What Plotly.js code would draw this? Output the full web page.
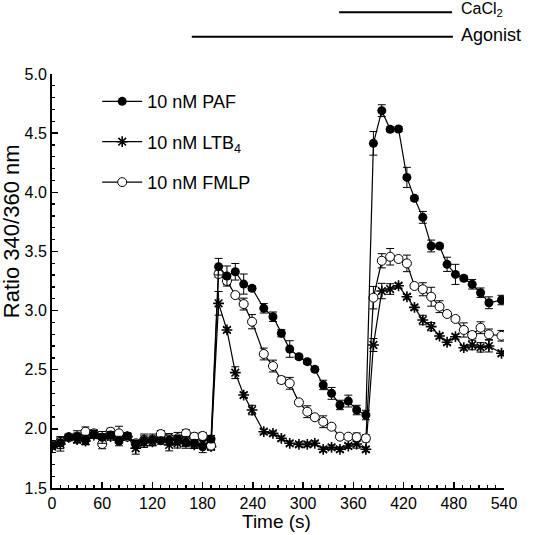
<!DOCTYPE html>
<html>
<head>
<meta charset="utf-8">
<script src="https://cdn.plot.ly/plotly-3.0.1.min.js"></script>
<style>html,body{margin:0;padding:0;background:#fff;}#chart{width:550px;height:535px;}</style>
</head>
<body>
<div id="chart"></div>
<script>
// Sampling times (s)
const times = [0,10,20,30,40,50,60,70,80,90,100,110,120,130,140,150,160,170,180,190,
  199,209,219,229,239,253,264,274,284,295,305,314,324,334,344,354,364,375,
  384,394,404,414,424,433,443,453,463,472,482,492,502,512,522,537];

const paf = [1.858,1.883,1.928,1.934,1.906,1.956,1.928,1.948,1.897,1.94,1.872,1.90,1.906,1.90,1.906,1.914,1.886,1.878,1.849,1.914,
  3.371,3.292,3.328,3.224,3.188,3.019,2.948,2.808,2.675,2.610,2.568,2.503,2.371,2.300,2.202,2.235,2.159,2.117,
  4.414,4.69,4.532,4.535,4.126,3.949,3.788,3.546,3.546,3.391,3.306,3.273,3.222,3.151,3.066,3.089];
const pafErr = [0.03,0.05,0.02,0.03,0.04,0.03,0.05,0.03,0.04,0.02,0.03,0.04,0.05,0.03,0.04,0.03,0.05,0.03,0.05,0.03,
  0.07,0.085,0.07,0.085,0.02,0.04,0.04,0.03,0.07,0.02,0.02,0.02,0.04,0.05,0.04,0.05,0.04,0.04,
  0.10,0.05,0.02,0.02,0.085,0.02,0.05,0.05,0.02,0.06,0.085,0.02,0.04,0.04,0.05,0.04];

const ltb4 = [1.85,1.872,1.928,1.91,1.897,1.948,1.92,1.934,1.91,1.934,1.836,1.883,1.89,1.92,1.864,1.878,1.89,1.864,1.878,1.85,
  3.061,2.836,2.475,2.286,2.159,1.976,1.962,1.92,1.878,1.869,1.869,1.878,1.827,1.844,1.827,1.855,1.872,1.827,
  2.709,3.165,3.182,3.21,3.117,3.027,2.92,2.864,2.785,2.732,2.779,2.686,2.709,2.689,2.70,2.639];
const ltb4Err = [0.05,0.06,0.02,0.03,0.03,0.03,0.04,0.03,0.03,0.03,0.05,0.04,0.03,0.03,0.05,0.04,0.04,0.03,0.03,0.03,
  0.1,0.02,0.05,0.02,0.04,0.02,0.02,0.02,0.02,0.02,0.02,0.02,0.02,0.02,0.02,0.02,0.035,0.02,
  0.055,0.065,0.045,0.02,0.02,0.02,0.04,0.035,0.02,0.02,0.02,0.02,0.04,0.04,0.05,0.02];

const fmlp = [1.864,1.89,1.93,1.934,1.976,1.962,1.872,1.976,1.962,1.934,1.878,1.906,1.91,1.956,1.92,1.92,1.962,1.934,1.94,1.858,
  3.309,3.25,3.131,3.055,2.906,2.633,2.531,2.413,2.385,2.224,2.145,2.098,2.06,2.018,1.934,1.934,1.93,1.92,
  3.109,3.421,3.455,3.436,3.399,3.208,3.18,3.117,3.033,2.971,2.929,2.836,2.793,2.855,2.799,2.787];
const fmlpErr = [0.03,0.03,0.02,0.05,0.04,0.03,0.04,0.03,0.06,0.03,0.03,0.05,0.03,0.03,0.04,0.05,0.03,0.03,0.03,0.03,
  0.03,0.03,0.02,0.05,0.06,0.05,0.05,0.03,0.05,0.02,0.05,0.02,0.05,0.02,0.02,0.02,0.035,0.03,
  0.095,0.06,0.07,0.02,0.07,0.02,0.055,0.08,0.05,0.02,0.02,0.06,0.03,0.05,0.045,0.045];

const seriesNames = ['10 nM PAF', '10 nM LTB<sub>4</sub>', '10 nM FMLP'];
const xTicks = [0,60,120,180,240,300,360,420,480,540];
const yTicks = [1.5,2.0,2.5,3.0,3.5,4.0,4.5,5.0];

// Treatment bars above the plot (time ranges, s)
const agonistBar = [167, 479];
const cacl2Bar = [343, 478];

const FONT = 'Liberation Sans, Arial, sans-serif';
const NARROW = 'Liberation Sans Narrow, Arial Narrow, Liberation Sans, Arial, sans-serif';

function errCfg(arr){
  return {type:'data', array:arr, visible:true, color:'#000', thickness:1, width:4};
}

const traces = [
  {x:times, y:ltb4, name:seriesNames[1], type:'scatter', mode:'lines+markers',
   legendgroup:'b', legendrank:2,
   line:{color:'#000', width:1.2},
   marker:{symbol:'asterisk-open', size:9, color:'#000', line:{color:'#000', width:1.6}},
   error_y:errCfg(ltb4Err)},
  {x:times, y:fmlp, name:seriesNames[2], type:'scatter', mode:'lines+markers',
   legendgroup:'c', legendrank:3,
   line:{color:'#000', width:1.2},
   marker:{symbol:'circle', size:9, color:'#fff', line:{color:'#000', width:1}},
   error_y:errCfg(fmlpErr)},
  {x:times, y:paf, name:seriesNames[0], type:'scatter', mode:'lines+markers',
   legendgroup:'a', legendrank:1,
   line:{color:'#000', width:1.2},
   marker:{symbol:'circle', size:9, color:'#000'},
   error_y:errCfg(pafErr)}
];

const layout = {
  width:550, height:535,
  margin:{l:52, r:46, t:74, b:47},
  paper_bgcolor:'#fff', plot_bgcolor:'#fff',
  font:{family:FONT, size:14, color:'#000'},
  showlegend:true,
  legend:{x:0.10, y:0.978, xanchor:'left', yanchor:'top',
    font:{family:FONT, size:18, color:'#000'},
    itemwidth:40,
    traceorder:'grouped', tracegroupgap:14, bgcolor:'rgba(0,0,0,0)'},
  xaxis:{range:[0,540], tickvals:xTicks, ticks:'inside', ticklen:6, tickwidth:1.5,
    tickcolor:'#000', showline:true, linecolor:'#000', linewidth:2,
    showgrid:false, zeroline:false, tickfont:{family:NARROW, size:16},
    minor:{dtick:10, ticks:'inside', ticklen:3, tickwidth:1.3, tickcolor:'#000', showgrid:false}},
  yaxis:{range:[1.5,5.0], tickvals:yTicks, tickformat:'.1f', ticks:'inside', ticklen:6, tickwidth:1.5,
    tickcolor:'#000', showline:true, linecolor:'#000', linewidth:2,
    showgrid:false, zeroline:false, tickfont:{family:NARROW, size:16},
    minor:{dtick:0.1, ticks:'inside', ticklen:3, tickwidth:1.3, tickcolor:'#000', showgrid:false}},
  shapes:[
    {type:'line', xref:'x', yref:'paper', x0:cacl2Bar[0], x1:cacl2Bar[1], y0:1.149, y1:1.149,
     line:{color:'#000', width:2}},
    {type:'line', xref:'x', yref:'paper', x0:agonistBar[0], x1:agonistBar[1], y0:1.090, y1:1.090,
     line:{color:'#000', width:2}}
  ],
  annotations:[
    {text:'CaCl<sub>2</sub>', xref:'x', yref:'paper', x:cacl2Bar[1]+8, y:1.155, xanchor:'left', yanchor:'middle',
     showarrow:false, font:{family:FONT, size:16}},
    {text:'Agonist', xref:'x', yref:'paper', x:agonistBar[1]+7, y:1.094, xanchor:'left', yanchor:'middle',
     showarrow:false, font:{family:FONT, size:18}},
    {text:'Time (s)', xref:'paper', yref:'paper', x:0.497, y:-0.08, xanchor:'center', yanchor:'middle',
     showarrow:false, font:{family:FONT, size:19}},
    {text:'Ratio 340/360 nm', xref:'paper', yref:'paper', x:-0.088, y:0.621, xanchor:'center', yanchor:'middle',
     textangle:-90, showarrow:false, font:{family:FONT, size:22}}
  ]
};

Plotly.newPlot('chart', traces, layout, {staticPlot:true, displayModeBar:false});
</script>
</body>
</html>
